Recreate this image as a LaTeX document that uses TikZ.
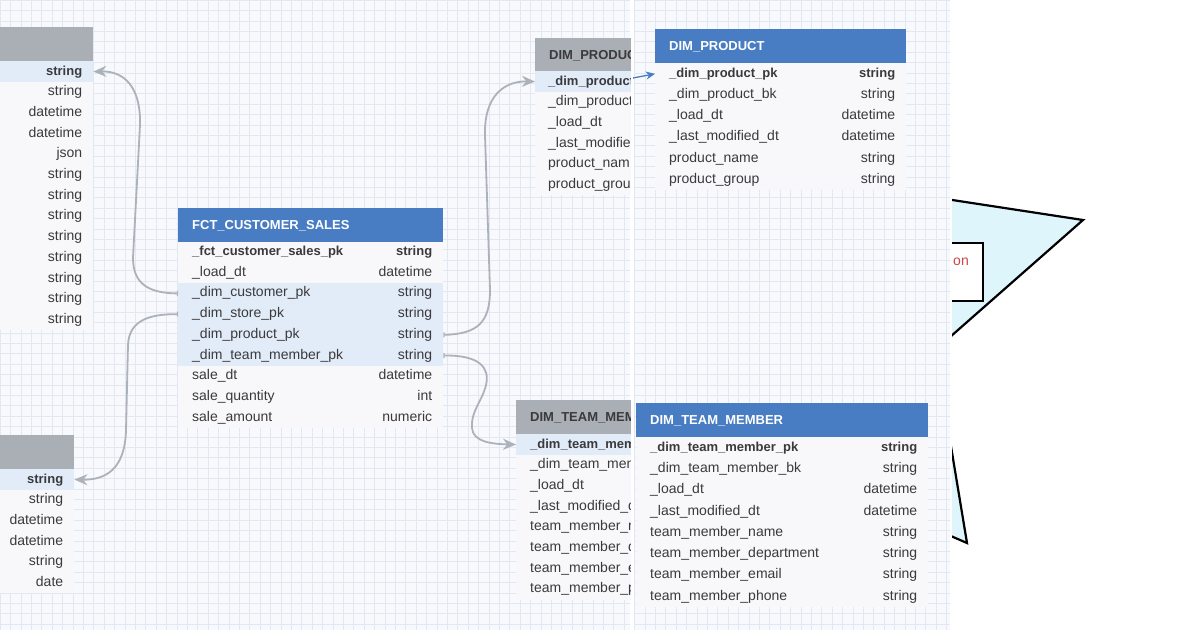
\documentclass[tikz,border=0pt]{standalone}
\usepackage{fontspec}
\setmainfont{Liberation Sans}
\usetikzlibrary{arrows.meta, positioning, calc}
\definecolor{erblue}{RGB}{72,124,195}
\definecolor{ergray}{RGB}{170,174,181}
\definecolor{erkey}{RGB}{226,236,249}
\definecolor{errow}{RGB}{248,248,250}
\definecolor{ertext}{RGB}{58,58,60}
\definecolor{erlink}{RGB}{172,178,186}
\definecolor{gridbg}{RGB}{248,249,252}
\definecolor{gridln}{RGB}{226,231,242}
\definecolor{shapecyan}{RGB}{222,245,252}
\definecolor{shapered}{RGB}{200,70,70}
\tikzset{
  hdr/.style={rectangle, anchor=north west, minimum height=34pt, inner xsep=14pt,
    inner ysep=0pt, align=left, text height=9.3pt, text depth=0pt,
    font=\fontsize{13}{15}\selectfont\bfseries},
  bluehdr/.style={hdr, fill=erblue, text=white},
  grayhdr/.style={hdr, fill=ergray, text=ertext},
  rowbox/.style={rectangle, anchor=north west, inner sep=0pt, minimum height=20.7pt},
  fname/.style={anchor=west, inner sep=0pt, text=ertext, text height=10pt,
    text depth=3pt, font=\fontsize{14}{16}\selectfont},
  ftype/.style={fname, anchor=east},
  keyname/.style={fname, font=\fontsize{13}{15}\selectfont\bfseries},
  keytype/.style={keyname, anchor=east},
  link/.style={{Bar[width=5pt,line width=1.2pt]}-{Stealth[length=13pt,width=11pt]},
    line width=1.8pt, color=erlink},
  bluelink/.style={-{Stealth[length=9pt,width=8pt]}, line width=1.3pt, color=erblue}
}

\begin{document}
\begin{tikzpicture}[x=1pt, y=-1pt]
  \useasboundingbox (0,0) rectangle (1200,630);

  % Canvas and grid of the first screenshot
  \fill[white] (0,0) rectangle (1200,630);
  \fill[gridbg] (0,0) rectangle (630,630);
  \draw[gridln, line width=0.6pt] (0,630) grid[step=10.4pt] (630,0);

  % Shapes behind the second screenshot
  \filldraw[fill=shapecyan, draw=black, line width=2.2pt] (900,192) -- (1083,220) -- (900,381) -- cycle;
  \filldraw[fill=white, draw=black, line width=2.2pt] (900,243) rectangle (983,301);
  \node[text=shapered, font=\fontsize{14}{16}\selectfont, anchor=east, inner sep=0pt] (cut) at (969,262) {on};
  \filldraw[fill=shapecyan, draw=black, line width=2.2pt] (940,380) -- (967,543) -- (900,514) -- cycle;

  % Customer dimension (cut at the left edge)
  \node[grayhdr, minimum width=243pt] (cust) at (-150,27) {};
  \node[rowbox, fill=erkey, minimum width=243pt] (cust-0) at (-150,61) {};
  \node[keytype] (cust-0-t) at ([xshift=-11pt]cust-0.east) {string};
  \foreach \t [count=\i] in {string, datetime, datetime, json, string, string,
      string, string, string, string, string, string} {
    \node[rowbox, fill=errow, minimum width=243pt] (cust-\i) at ({-150},{61+20.7*\i}) {};
    \node[ftype] (cust-\i-t) at ([xshift=-11pt]cust-\i.east) {\t};
  }

  % Store dimension (cut at the left edge)
  \node[grayhdr, minimum width=224pt] (store) at (-150,435) {};
  \node[rowbox, fill=erkey, minimum width=224pt] (store-0) at (-150,469) {};
  \node[keytype] (store-0-t) at ([xshift=-11pt]store-0.east) {string};
  \foreach \t [count=\i] in {string, datetime, datetime, string, date} {
    \node[rowbox, fill=errow, minimum width=224pt] (store-\i) at ({-150},{469+20.7*\i}) {};
    \node[ftype] (store-\i-t) at ([xshift=-11pt]store-\i.east) {\t};
  }

  % Fact table
  \node[bluehdr, text width=237pt] (fct) at (178,207.5) {FCT\_CUSTOMER\_SALES};
  \node[rowbox, fill=errow, minimum width=265pt] (fct-0) at (178,241.5) {};
  \node[keyname] (fct-0-n) at ([xshift=14pt]fct-0.west) {\_fct\_customer\_sales\_pk};
  \node[keytype] (fct-0-t) at ([xshift=-11pt]fct-0.east) {string};
  \foreach \n/\t/\c [count=\i] in {\_load\_dt/datetime/errow,
      \_dim\_customer\_pk/string/erkey, \_dim\_store\_pk/string/erkey,
      \_dim\_product\_pk/string/erkey, \_dim\_team\_member\_pk/string/erkey,
      sale\_dt/datetime/errow, sale\_quantity/int/errow, sale\_amount/numeric/errow} {
    \node[rowbox, fill=\c, minimum width=265pt] (fct-\i) at ({178},{241.5+20.7*\i}) {};
    \node[fname] (fct-\i-n) at ([xshift=14pt]fct-\i.west) {\n};
    \node[ftype] (fct-\i-t) at ([xshift=-11pt]fct-\i.east) {\t};
  }

  \begin{scope}
    \clip (-10,0) rectangle (631,630);
    % Product dimension (cut by the second screenshot)
    \node[grayhdr, text width=222pt] (pprod) at (535,37.5) {DIM\_PRODUC};
    \node[rowbox, fill=erkey, minimum width=250pt] (pprod-0) at (535,71) {};
    \node[keyname] (pprod-0-n) at ([xshift=13pt]pprod-0.west) {\_dim\_product};
    \foreach \n [count=\i] in {\_dim\_product, \_load\_dt, \_last\_modifie,
        product\_nam, product\_grou} {
      \node[rowbox, fill=errow, minimum width=250pt] (pprod-\i) at ({535},{71+20.7*\i}) {};
      \node[fname] (pprod-\i-n) at ([xshift=13pt]pprod-\i.west) {\n};
    }

    % Team member dimension (cut by the second screenshot)
    \node[grayhdr, text width=262pt] (pteam) at (516,400) {DIM\_TEAM\_MEM};
    \node[rowbox, fill=erkey, minimum width=290pt] (pteam-0) at (516,434) {};
    \node[keyname] (pteam-0-n) at ([xshift=14pt]pteam-0.west) {\_dim\_team\_mem};
    \foreach \n [count=\i] in {\_dim\_team\_mem, \_load\_dt, \_last\_modified\_d,
        team\_member\_n, team\_member\_d, team\_member\_e, team\_member\_p} {
      \node[rowbox, fill=errow, minimum width=290pt] (pteam-\i) at ({516},{434+20.7*\i}) {};
      \node[fname] (pteam-\i-n) at ([xshift=14pt]pteam-\i.west) {\n};
    }
  \end{scope}

  % Foreign keys to the dimensions
  \draw[link] (fct-2.west) .. controls (150,293) and (133,285) .. (133,258)
    -- (140,125) .. controls (141,88) and (125,71) .. (cust-0.east);
  \draw[link] (fct-3.west) .. controls (150,314) and (129,320) .. (128,345)
    -- (126,430) .. controls (125,470) and (105,480) .. (store-0.east);
  \draw[link] (fct-4.east) .. controls (478,334) and (490,322) .. (490,290)
    -- (485,135) .. controls (484,95) and (505,81) .. (pprod-0.west);
  \draw[link] (fct-5.east) .. controls (480,355) and (490,368) .. (486,385)
    .. controls (482,402) and (471,410) .. (472,428)
    .. controls (473,442) and (492,444) .. (pteam-0.west);

  % Second screenshot
  \fill[white] (631,0) rectangle (952,630);
  \fill[gridbg] (634,0) rectangle (950,630);
  \draw[gridln, line width=0.6pt] (634,630) grid[step=10.4pt] (950,0);

  % Product dimension
  \node[bluehdr, text width=223pt] (prod) at (655,29) {DIM\_PRODUCT};
  \node[rowbox, fill=errow, minimum width=251pt, minimum height=21.2pt] (prod-0) at (655,63) {};
  \node[keyname] (prod-0-n) at ([xshift=14pt]prod-0.west) {\_dim\_product\_pk};
  \node[keytype] (prod-0-t) at ([xshift=-11pt]prod-0.east) {string};
  \foreach \n/\t [count=\i] in {\_dim\_product\_bk/string, \_load\_dt/datetime,
      \_last\_modified\_dt/datetime, product\_name/string, product\_group/string} {
    \node[rowbox, fill=errow, minimum width=251pt, minimum height=21.2pt] (prod-\i) at ({655},{63+21.2*\i}) {};
    \node[fname] (prod-\i-n) at ([xshift=14pt]prod-\i.west) {\n};
    \node[ftype] (prod-\i-t) at ([xshift=-11pt]prod-\i.east) {\t};
  }
  \coordinate (pstub) at (633,78);
  \draw[bluelink] (pstub) -- (prod-0.west);

  % Team member dimension
  \node[bluehdr, text width=264pt] (team) at (636,403) {DIM\_TEAM\_MEMBER};
  \node[rowbox, fill=errow, minimum width=292pt, minimum height=21.25pt] (team-0) at (636,437) {};
  \node[keyname] (team-0-n) at ([xshift=14pt]team-0.west) {\_dim\_team\_member\_pk};
  \node[keytype] (team-0-t) at ([xshift=-11pt]team-0.east) {string};
  \foreach \n/\t [count=\i] in {\_dim\_team\_member\_bk/string, \_load\_dt/datetime,
      \_last\_modified\_dt/datetime, team\_member\_name/string,
      team\_member\_department/string, team\_member\_email/string,
      team\_member\_phone/string} {
    \node[rowbox, fill=errow, minimum width=292pt, minimum height=21.25pt] (team-\i) at ({636},{437+21.25*\i}) {};
    \node[fname] (team-\i-n) at ([xshift=14pt]team-\i.west) {\n};
    \node[ftype] (team-\i-t) at ([xshift=-11pt]team-\i.east) {\t};
  }
\end{tikzpicture}
\end{document}
